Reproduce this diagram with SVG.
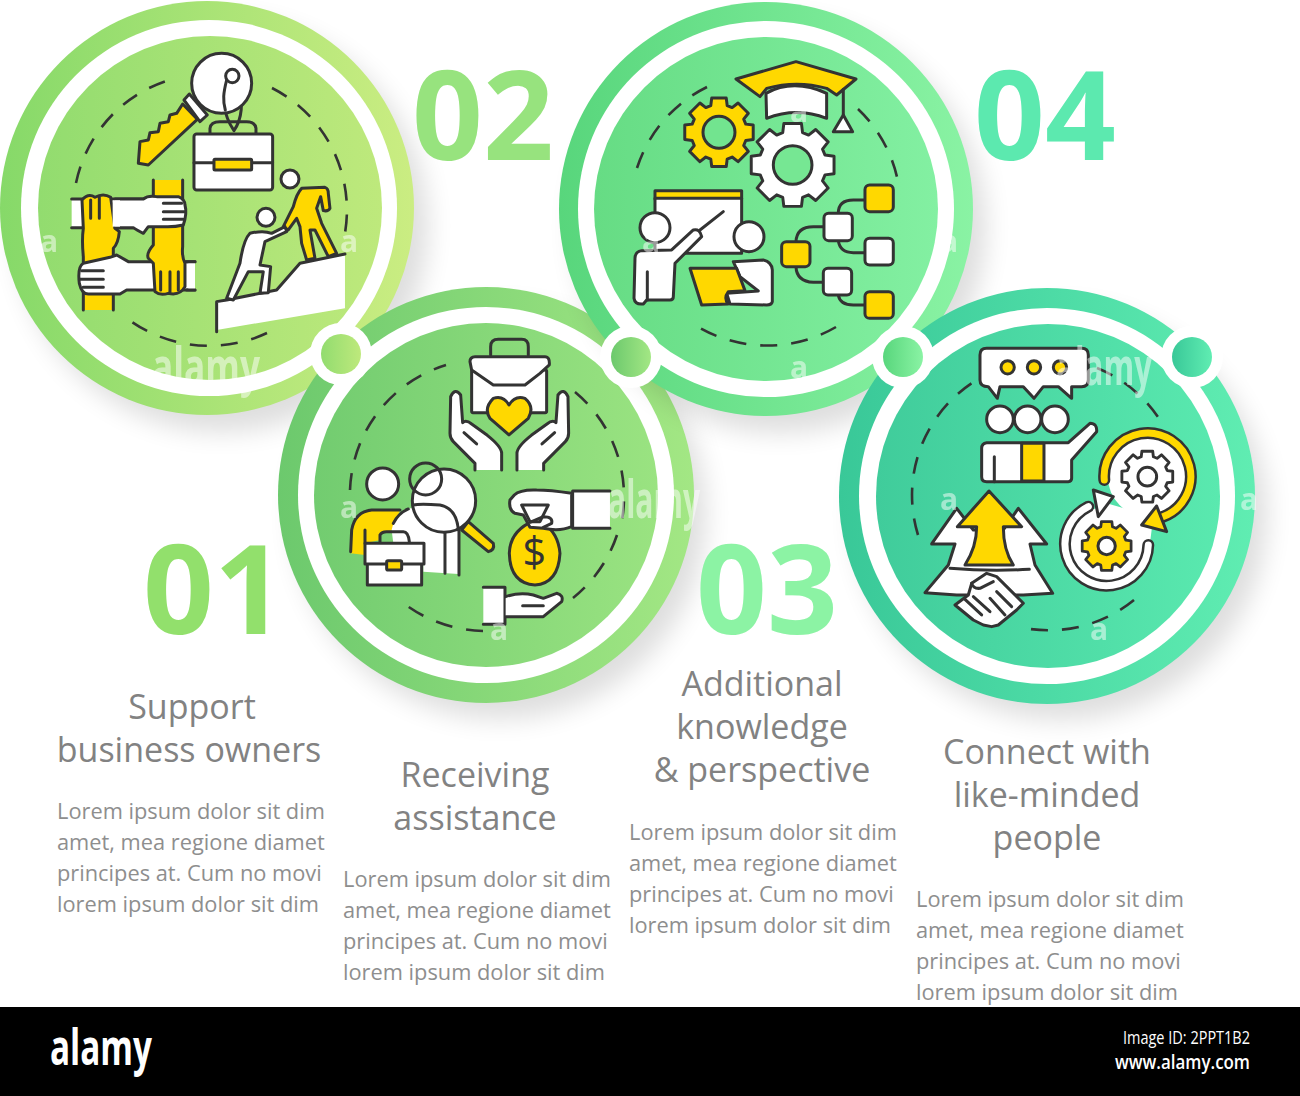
<svg xmlns="http://www.w3.org/2000/svg" xmlns:xlink="http://www.w3.org/1999/xlink" width="1300" height="1096" viewBox="0 0 1300 1096">
<style>
.w{fill:#fff;stroke:#333;stroke-width:9;stroke-linejoin:round;stroke-linecap:round}
.y{fill:#ffd800;stroke:#333;stroke-width:9;stroke-linejoin:round;stroke-linecap:round}
.n{fill:none;stroke:#333;stroke-width:9;stroke-linejoin:round;stroke-linecap:round}
.f{fill:#fff;stroke:none}
.fy{fill:#ffd800;stroke:none}
.dash{fill:none;stroke:#333;stroke-width:2.6;stroke-dasharray:17 14}
.title{font-family:"Open Sans","Noto Sans",sans-serif;font-size:34px;fill:#828282;text-anchor:middle}
.body{font-family:"Open Sans","Noto Sans",sans-serif;font-size:21.8px;fill:#8e8e8e}
.num{font-family:"Open Sans","Noto Sans",sans-serif;font-weight:700;font-size:124px}
.wm{font-family:"Open Sans",sans-serif;font-weight:700;fill:#fff;opacity:.5}
.ring{fill:#fff}
.sh{fill:#000;opacity:.13;filter:url(#blur)}
</style>
<defs>
<filter id="blur" x="-20%" y="-20%" width="140%" height="140%"><feGaussianBlur stdDeviation="13"/></filter>
<linearGradient id="g1"><stop offset="0" stop-color="#86d969"/><stop offset="1" stop-color="#cbed82"/></linearGradient>
<linearGradient id="g1i"><stop offset="0" stop-color="#92dc6f"/><stop offset="1" stop-color="#bee97c"/></linearGradient>
<linearGradient id="g2"><stop offset="0" stop-color="#6cc96d"/><stop offset="1" stop-color="#a3e784"/></linearGradient>
<linearGradient id="g2i"><stop offset="0" stop-color="#72cc70"/><stop offset="1" stop-color="#9ae381"/></linearGradient>
<linearGradient id="g3"><stop offset="0" stop-color="#58d67c"/><stop offset="1" stop-color="#8af3a4"/></linearGradient>
<linearGradient id="g3i"><stop offset="0" stop-color="#66dc84"/><stop offset="1" stop-color="#83f0a2"/></linearGradient>
<linearGradient id="g4"><stop offset="0" stop-color="#39c898"/><stop offset="1" stop-color="#60edb2"/></linearGradient>
<linearGradient id="g4i"><stop offset="0" stop-color="#40cc9b"/><stop offset="1" stop-color="#5ae9af"/></linearGradient>
<path id="gear" d="M76.5,-23.4L97.8,-20.8L97.8,20.8L76.5,23.4L70.6,37.6L83.9,54.5L54.5,83.9L37.6,70.6L23.4,76.5L20.8,97.8L-20.8,97.8L-23.4,76.5L-37.6,70.6L-54.5,83.9L-83.9,54.5L-70.6,37.6L-76.5,23.4L-97.8,20.8L-97.8,-20.8L-76.5,-23.4L-70.6,-37.6L-83.9,-54.5L-54.5,-83.9L-37.6,-70.6L-23.4,-76.5L-20.8,-97.8L20.8,-97.8L23.4,-76.5L37.6,-70.6L54.5,-83.9L83.9,-54.5L70.6,-37.6Z"/>
<g id="lefthand">
<path class="w" d="M585,540L585,520L520,455Q510,445 510,430L512,320Q525,292 542,315L548,398Q558,388 575,402L622,436Q665,470 665,490L665,540"/>
<path class="n" d="M552,428L590,462"/>
</g>
</defs>
<rect width="1300" height="1096" fill="#fff"/>

<g id="node-1">
<circle class="sh" cx="222" cy="226" r="206"/>
<circle cx="207" cy="208" r="207" fill="url(#g1)"/>
<circle class="ring" cx="209" cy="208" r="188"/>
<circle cx="210" cy="208" r="172" fill="url(#g1i)"/>
<path class="dash" d="M76,183A137,137 0 0 1 166,81M272,88A137,137 0 0 1 345,233M267,333A137,137 0 0 1 132,322"/>
<g transform="scale(.3333)">
<path class="n" d="M680,240C665,290 670,345 702,392C735,345 725,280 716,240"/>
<path class="n" d="M630,400L630,385Q632,365 660,365L740,365Q765,365 768,385L768,400"/>
<circle class="w" cx="665" cy="250" r="90"/>
<circle class="n" cx="697" cy="228" r="20"/>
<path class="n" d="M680,240C670,280 668,300 676,330"/>
<path class="y" d="M548,312L592,358L445,495L415,490L420,425L445,420L450,398L475,395L480,370L505,365L510,345L530,340Z"/>
<path class="w" d="M568,282L622,345L600,365L552,300Z"/>
<rect class="w" x="582" y="402" width="236" height="168" rx="8"/>
<path class="n" d="M582,488L642,488M755,488L818,488"/>
<rect class="y" x="642" y="478" width="113" height="32" rx="3"/>
<path class="f" d="M215,597H460V683H215Z"/>
<path class="n" d="M215,597H460M215,683H420"/>
<path class="y" d="M250,930L250,770Q245,720 250,685L246,600Q265,578 285,592Q310,578 332,592L345,685L358,695Q355,730 340,745L340,930"/>
<path class="n" d="M272,600V655M298,592V655"/>
<path class="w" d="M585,785L385,785L350,765L330,772L250,790Q232,800 238,850Q245,882 265,882L360,882L380,870L585,870"/>
<path class="f" d="M565,785H585V870H565Z"/>
<path class="n" d="M585,785H560M585,870H560"/>
<path class="n" d="M245,812H310M240,838H310M250,862H310"/>
<path class="y" d="M460,540L460,735Q438,760 445,775L460,790L465,875Q480,888 505,880Q540,888 555,860L555,790Q545,770 548,740L548,540"/>
<path class="n" d="M482,815V870M510,815V875M535,815V870"/>
<path class="w" d="M345,597L430,597Q445,585 470,590L535,590Q555,598 555,615Q562,640 550,675Q520,682 490,680L445,680L430,700Q410,690 400,683L345,683"/>
<path class="f" d="M338,601H360V680H338Z"/>
<path class="n" d="M490,610H545M490,635H555M490,658H550"/>
<path class="f" d="M650,905L690,900L780,880L830,870L900,790L1035,765L1035,925L650,990Z"/>
<path class="n" d="M650,995L650,905L680,900L830,870L900,790L1035,762"/>
<circle class="w" cx="870" cy="537" r="27"/>
<path class="y" d="M905,565L975,562Q985,565 985,580L990,625Q985,635 970,632L962,590L950,625L965,670L1010,760L985,770L945,690L930,690L945,775L920,780L905,730L900,680L890,655L865,690L850,680L880,620Q890,580 905,565Z"/>
<circle class="w" cx="798" cy="652" r="27"/>
<path class="w" d="M855,680L815,700Q790,690 750,700Q730,720 720,790L680,895L700,900L745,815L790,815L780,880L805,878L812,800L780,795L795,725L860,695Z"/>
</g>
</g>

<g id="node-2">
<circle class="sh" cx="500" cy="513" r="206"/>
<circle cx="486" cy="495" r="208" fill="url(#g2)"/>
<circle class="ring" cx="486" cy="495" r="188"/>
<circle cx="486" cy="495" r="172" fill="url(#g2i)"/>
<path class="dash" d="M350,490A136,136 0 0 1 446,365M575,392A136,136 0 0 1 622,520M617,535A136,136 0 0 1 573,598M483,631A136,136 0 0 1 402,602"/>
<g transform="translate(280 290) scale(.3333)">
<path class="n" d="M632,195L632,170Q632,148 655,148L725,148Q745,148 745,170L745,195"/>
<rect class="w" x="575" y="240" width="225" height="128" rx="4"/>
<path class="w" d="M570,215Q570,200 585,200L795,200Q810,200 808,225L780,250L735,285L640,285L575,240Z"/>
<use xlink:href="#lefthand" href="#lefthand"/>
<use xlink:href="#lefthand" href="#lefthand" transform="translate(1376 0) scale(-1 1)"/>
<path class="y" d="M687,435L630,385Q610,355 640,325Q670,315 687,345Q705,315 735,325Q765,350 745,385Z"/>
<circle class="w" cx="308" cy="582" r="48"/>
<path class="fy" d="M212,790L215,720Q225,665 275,660L360,660L340,720L300,730L300,750L255,760L255,795Z"/>
<path class="n" d="M212,785L215,720Q225,665 275,660L360,660"/>
<path class="f" d="M335,720Q345,670 390,655L500,650L537,720L535,852L430,845L430,760L340,760Z"/>
<path class="n" d="M340,700Q355,670 385,657"/>
<path class="y" d="M565,695L640,760Q645,780 625,785L545,720Z"/>
<circle class="w" cx="492" cy="632" r="95"/>
<circle class="w" cx="437" cy="567" r="48" style="fill:none"/>
<path class="n" d="M400,645Q420,640 480,645Q530,655 535,720"/>
<path class="n" d="M495,730V850M537,715V855"/>
<path class="n" d="M300,755L300,735Q305,725 320,725L370,725Q385,725 388,755M255,720V760"/>
<rect class="w" x="262" y="810" width="163" height="75"/>
<rect class="w" x="255" y="760" width="177" height="62"/>
<rect class="y" x="320" y="812" width="45" height="28" rx="4"/>
<path class="y" d="M745,700Q690,730 688,790Q690,880 765,885Q835,880 840,790Q835,730 790,700Z"/>
<path class="w" d="M875,610Q810,600 770,600Q720,598 703,615L690,630Q685,660 705,670L730,675L750,712L790,715Q840,725 875,710Z"/>
<path class="w" d="M725,645L805,645L780,695L750,695Z"/>
<path class="n" d="M750,697L790,680Q820,680 815,700L790,712"/>
<path class="f" d="M878,603H990V715H878Z"/>
<path class="n" d="M990,603H878V715H990"/>
<text x="763" y="832" font-family="Open Sans,sans-serif" font-size="124" fill="#333" text-anchor="middle">$</text>
<path class="f" d="M610,892H675V1003H610Z"/>
<path class="n" d="M610,892H675V1003H610"/>
<path class="w" d="M677,920Q720,905 760,915L790,925L830,910Q852,915 845,935L790,980L677,980"/>
<path class="n" d="M728,947H790"/>
</g>
</g>

<g id="node-3">
<circle class="sh" cx="780" cy="227" r="206"/>
<circle cx="766" cy="209" r="207" fill="url(#g3)"/>
<circle class="ring" cx="766" cy="209" r="188"/>
<circle cx="766" cy="209" r="172" fill="url(#g3i)"/>
<path class="dash" d="M637,168A137,137 0 0 1 707,87M858,109A137,137 0 0 1 897,177M836,327A137,137 0 0 1 700,328"/>
<g transform="translate(560 0) scale(.3333)">
<path class="w" d="M618,280Q700,235 800,280L800,355Q710,320 620,355Z"/>
<path class="y" d="M528,237L708,185L888,237L830,285L800,265Q710,240 620,265L600,290Z"/>
<path class="n" d="M850,268V345"/>
<path class="w" d="M850,345L878,395L820,395Z"/>
<use href="#gear" xlink:href="#gear" class="y" transform="translate(477 397) scale(1.05)" style="stroke-width:8.5"/>
<circle cx="477" cy="397" r="48" fill="#72e48f" stroke="#333" stroke-width="9"/>
<use href="#gear" xlink:href="#gear" class="w" transform="translate(698 495) scale(1.27)" style="stroke-width:7"/>
<circle cx="698" cy="495" r="58" fill="#76e793" stroke="#333" stroke-width="9"/>
<rect class="y" x="285" y="572" width="260" height="25"/>
<rect class="w" x="285" y="595" width="260" height="165"/>
<path class="n" d="M420,690L490,635"/>
<circle class="w" cx="285" cy="683" r="45"/>
<path class="w" d="M225,775Q225,755 245,752L335,750L400,690Q420,685 425,710L345,790L340,890Q340,900 330,900L260,900L250,912Q225,915 222,895Z"/>
<path class="n" d="M262,815V900"/>
<circle class="w" cx="567" cy="710" r="45"/>
<path class="w" d="M520,785L610,780Q635,785 637,810L637,905Q635,915 620,915L510,912L500,880L595,873L540,830Z"/>
<path class="y" d="M390,805L530,805L555,872L505,875Q490,895 505,912L425,915Z"/>
<path class="n" d="M708,725Q710,680 760,680L792,680M708,800Q710,845 760,847L790,847M835,640Q835,600 880,600L915,600M835,722Q840,758 880,758L915,758M835,885Q840,915 880,915L915,915"/>
<rect class="y" x="665" y="725" width="85" height="75" rx="14"/>
<rect class="w" x="792" y="640" width="85" height="82" rx="14"/>
<rect class="w" x="790" y="805" width="85" height="80" rx="14"/>
<rect class="y" x="915" y="555" width="85" height="80" rx="14"/>
<rect class="w" x="915" y="715" width="85" height="80" rx="14"/>
<rect class="y" x="915" y="875" width="85" height="80" rx="14"/>
</g>
</g>

<g id="node-4">
<circle class="sh" cx="1061" cy="514" r="206"/>
<circle cx="1047" cy="496" r="208" fill="url(#g4)"/>
<circle class="ring" cx="1047" cy="496" r="188"/>
<circle cx="1048" cy="496" r="172" fill="url(#g4i)"/>
<path class="dash" d="M918,535A135,135 0 0 1 972,383M1097,368A135,135 0 0 1 1158,417M1134,600A135,135 0 0 1 1030,629"/>
<g transform="translate(840 290) scale(.3333)">
<path class="w" d="M440,175L725,175Q745,175 745,195L745,270Q745,290 725,290L695,290L695,325L655,290L610,290L582,325L550,290L480,290L472,325L445,290Q420,290 420,270L420,195Q420,175 440,175Z"/>
<circle class="y" cx="503" cy="232" r="20"/>
<circle class="y" cx="582" cy="232" r="20"/>
<circle class="y" cx="660" cy="232" r="20"/>
<circle class="w" cx="480" cy="388" r="40"/>
<circle class="w" cx="563" cy="388" r="40"/>
<circle class="w" cx="645" cy="388" r="40"/>
<path class="w" d="M440,458Q425,460 425,475L425,560Q425,575 440,575L685,575Q695,575 695,565L695,510L770,425Q772,400 750,400L685,458Z"/>
<rect class="y" x="545" y="460" width="67" height="113"/>
<path class="n" d="M463,500V575"/>
<path class="w" d="M255,908L325,825L345,762L275,762L350,655L400,720L490,720L535,655L620,762L570,762L585,825L638,910L550,915L350,915Z"/>
<path class="y" d="M447,603L545,710L490,710Q490,780 520,825L375,825Q410,770 410,710L352,710Z"/>
<path class="n" d="M330,835Q450,845 568,838"/>
<path class="w" d="M395,880L440,850L470,860L550,940L530,960L475,1005L455,1010L430,1005L400,990L345,945L385,915Z"/>
<path class="n" d="M395,880Q400,897 420,895L460,875M375,928L425,975M400,920L450,965M470,905L515,950M450,925L495,975"/>
<circle class="f" cx="922" cy="562" r="118"/>
<circle class="f" cx="800" cy="768" r="118"/>
<path class="f" d="M800,640L940,680L930,760L790,700Z"/>
<path fill="none" stroke="#333" stroke-width="36" stroke-linecap="round" d="M793,570A130,130 0 1 1 965,682"/>
<path fill="none" stroke="#ffd800" stroke-width="21" stroke-linecap="round" d="M793,570A130,130 0 1 1 965,682"/>
<path class="y" d="M950,648L905,705L980,725Z"/>
<use href="#gear" xlink:href="#gear" class="w" transform="translate(922 560) scale(.78)" style="stroke-width:11"/>
<circle class="w" cx="922" cy="560" r="28"/>
<path fill="none" stroke="#333" stroke-width="36" stroke-linecap="round" d="M925,765A125,125 0 1 1 745,650"/>
<path fill="none" stroke="#fff" stroke-width="21" stroke-linecap="round" d="M925,765A125,125 0 1 1 745,650"/>
<path class="w" d="M760,600L820,620L775,680Z"/>
<use href="#gear" xlink:href="#gear" class="y" transform="translate(800 768) scale(.75)" style="stroke-width:11"/>
<circle class="w" cx="800" cy="768" r="26"/>
</g>
</g>

<g id="connectors">
<circle class="ring" cx="341" cy="354" r="31"/><circle cx="341" cy="354" r="20" fill="url(#g1i)"/>
<circle class="ring" cx="631" cy="357" r="31"/><circle cx="631" cy="357" r="20" fill="url(#g2)"/>
<circle class="ring" cx="903" cy="357" r="31"/><circle cx="903" cy="357" r="20" fill="url(#g3)"/>
<circle class="ring" cx="1192" cy="357" r="31"/><circle cx="1192" cy="357" r="20" fill="url(#g4)"/>
</g>

<g id="numbers" class="num">
<text x="143" y="634" fill="#92e06c">01</text>
<text x="412" y="160" fill="#97e37e">02</text>
<text x="696" y="634" fill="#8cf3a4">03</text>
<text x="974" y="160" fill="#5ce9af">04</text>
</g>

<g id="text-1">
<text class="title" x="192" y="719">Support</text>
<text class="title" x="189" y="762">business owners</text>
<text class="body" x="57" y="819">Lorem ipsum dolor sit dim</text>
<text class="body" x="57" y="850">amet, mea regione diamet</text>
<text class="body" x="57" y="881">principes at. Cum no movi</text>
<text class="body" x="57" y="912">lorem ipsum dolor sit dim</text>
</g>
<g id="text-2">
<text class="title" x="475" y="787">Receiving</text>
<text class="title" x="475" y="830">assistance</text>
<text class="body" x="343" y="887">Lorem ipsum dolor sit dim</text>
<text class="body" x="343" y="918">amet, mea regione diamet</text>
<text class="body" x="343" y="949">principes at. Cum no movi</text>
<text class="body" x="343" y="980">lorem ipsum dolor sit dim</text>
</g>
<g id="text-3">
<text class="title" x="762" y="696">Additional</text>
<text class="title" x="762" y="739">knowledge</text>
<text class="title" x="762" y="782">&amp; perspective</text>
<text class="body" x="629" y="840">Lorem ipsum dolor sit dim</text>
<text class="body" x="629" y="871">amet, mea regione diamet</text>
<text class="body" x="629" y="902">principes at. Cum no movi</text>
<text class="body" x="629" y="933">lorem ipsum dolor sit dim</text>
</g>
<g id="text-4">
<text class="title" x="1047" y="764">Connect with</text>
<text class="title" x="1047" y="807">like-minded</text>
<text class="title" x="1047" y="850">people</text>
<text class="body" x="916" y="907">Lorem ipsum dolor sit dim</text>
<text class="body" x="916" y="938">amet, mea regione diamet</text>
<text class="body" x="916" y="969">principes at. Cum no movi</text>
<text class="body" x="916" y="1000">lorem ipsum dolor sit dim</text>
</g>

<g id="watermarks">
<text class="wm" x="152" y="385" font-size="52" textLength="108" lengthAdjust="spacingAndGlyphs">alamy</text>
<text class="wm" x="608" y="518" font-size="52" textLength="92" lengthAdjust="spacingAndGlyphs">alamy</text>
<text class="wm" x="1056" y="385" font-size="52" textLength="96" lengthAdjust="spacingAndGlyphs">alamy</text>
<text class="wm" x="40" y="252" font-size="30">a</text>
<text class="wm" x="340" y="252" font-size="30">a</text>
<text class="wm" x="340" y="518" font-size="30">a</text>
<text class="wm" x="490" y="640" font-size="30">a</text>
<text class="wm" x="790" y="122" font-size="30">a</text>
<text class="wm" x="642" y="252" font-size="30">a</text>
<text class="wm" x="940" y="252" font-size="30">a</text>
<text class="wm" x="790" y="378" font-size="30">a</text>
<text class="wm" x="940" y="510" font-size="30">a</text>
<text class="wm" x="1240" y="510" font-size="30">a</text>
<text class="wm" x="1090" y="640" font-size="30">a</text>
</g>

<g id="footer">
<rect x="0" y="1007" width="1300" height="89" fill="#000"/>
<text x="50" y="1065" font-family="Open Sans,sans-serif" font-weight="700" font-size="50" fill="#fff" textLength="102" lengthAdjust="spacingAndGlyphs">alamy</text>
<text x="1123" y="1044" font-family="Open Sans,sans-serif" font-size="18" fill="#fff" textLength="127" lengthAdjust="spacingAndGlyphs">Image ID: 2PPT1B2</text>
<text x="1115" y="1069" font-family="Open Sans,sans-serif" font-weight="600" font-size="20" fill="#fff" textLength="135" lengthAdjust="spacingAndGlyphs">www.alamy.com</text>
</g>
</svg>
